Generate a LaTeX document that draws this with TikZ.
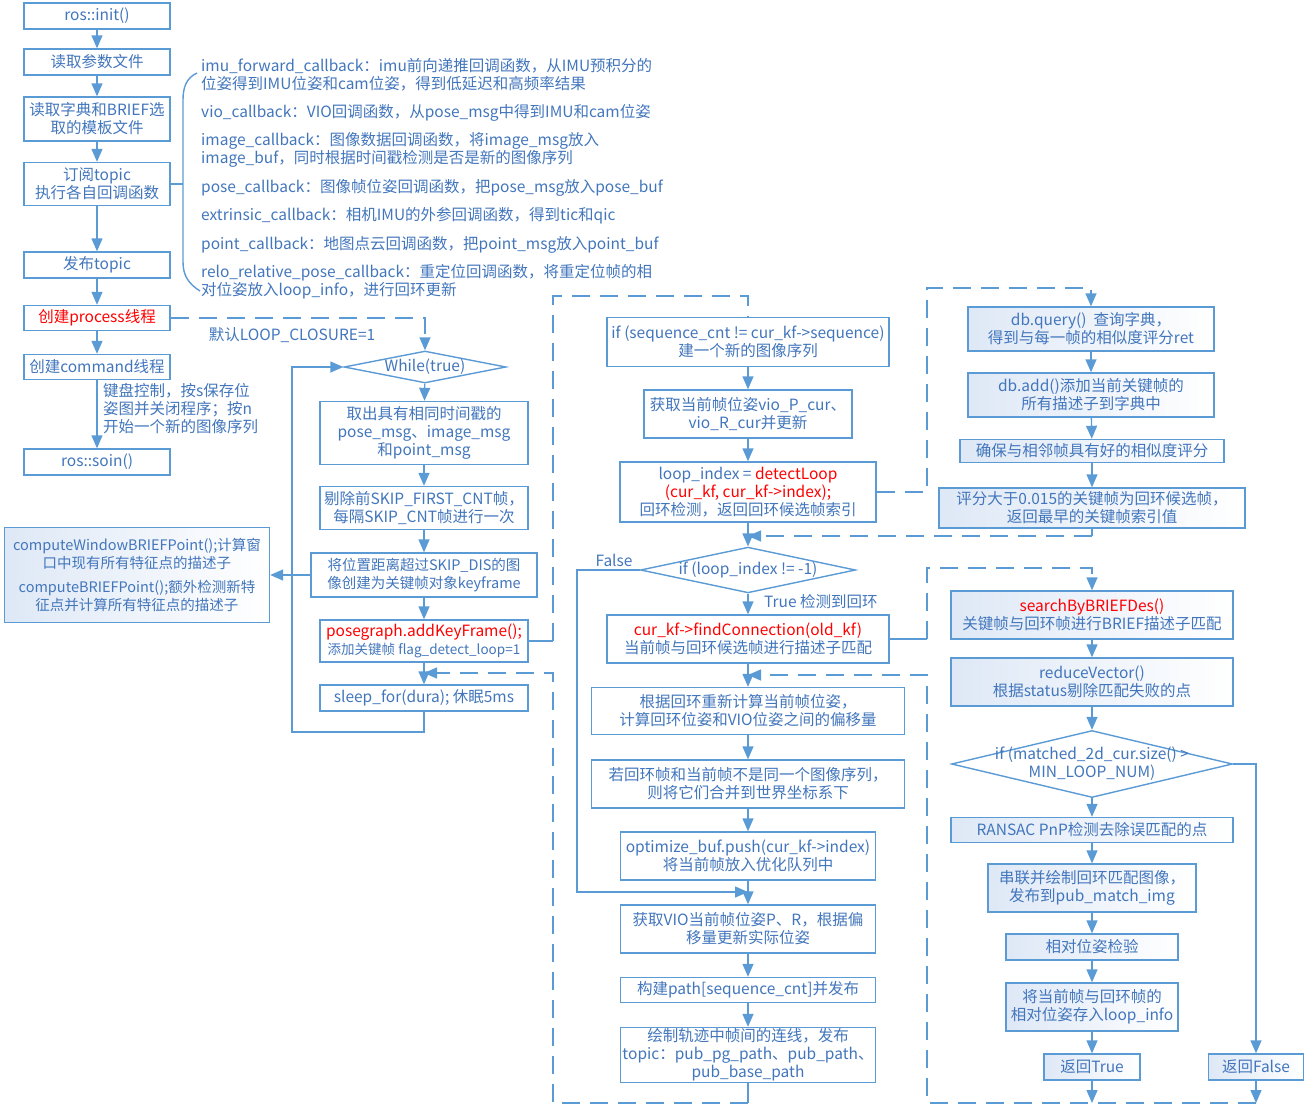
\documentclass[tikz,border=0pt]{standalone}
\usepackage{fontspec}
\setmainfont{Noto Sans CJK SC}
\usetikzlibrary{arrows.meta,shapes.geometric}

\definecolor{lnblue}{RGB}{91,155,213}
\definecolor{txtblue}{RGB}{66,118,188}
\definecolor{shadeblue}{RGB}{222,232,246}
\newcommand{\fs}{\fontsize{15.5}{18}\selectfont}
\newcommand{\fsn}{\fontsize{14.5}{17.5}\selectfont}
\newcommand{\fsmall}{\fontsize{13.5}{15}\selectfont}

\begin{document}
\begin{tikzpicture}[x=1pt,y=-1pt,
  box/.style={draw=lnblue,line width=1.4pt,fill=white,align=center,minimum height=26},
  sbox/.style={box,left color=shadeblue,right color=white},
  cond/.style={draw=lnblue,line width=1.4pt,fill=white,shape=diamond,align=center},
  ln/.style={draw=lnblue,line width=1.4pt},
  arr/.style={ln,-{Triangle[width=11pt,length=13pt]}},
  dsh/.style={ln,dash pattern=on 18pt off 10pt},
  note/.style={align=left,anchor=west}]
\tikzstyle{every node}+=[inner sep=0pt,text=txtblue,font=\fs]
\useasboundingbox (0,0) rectangle (1307,1106);

% main thread
\node[box,minimum width=146] (init) at (97,16) {ros::init()};
\node[box,minimum width=146] (param) at (97,62) {读取参数文件};
\node[box,minimum width=146,minimum height=44] (dict) at (97,119) {读取字典和BRIEF选\\取的模板文件};
\node[box,minimum width=146,minimum height=43] (sub) at (97,184) {订阅topic\\执行各自回调函数};
\node[box,minimum width=146] (pub) at (97,265) {发布topic};
\node[box,minimum width=146,minimum height=25,text=red] (proc) at (97,318) {创建process线程};
\node[box,minimum width=146,minimum height=25] (cmd) at (97,367) {创建command线程};
\node[box,minimum width=146] (spin) at (97,462) {ros::soin()};
\draw[arr] (init) -- (param);
\draw[arr] (param) -- (dict);
\draw[arr] (dict) -- (sub);
\draw[arr] (sub) -- (pub);
\draw[arr] (pub) -- (proc);
\draw[arr] (proc) -- (cmd);
\draw[arr] (cmd) -- (spin);
\node[note,anchor=north west,text width=180] (keys) at (103,383) {键盘控制，按s保存位\\姿图并关闭程序；按n\\开始一个新的图像序列};

% callbacks
\coordinate (brc) at (183,184);
\draw[ln] (sub.east) -- (brc);
\draw[ln] (197,73) .. controls (186,78) and (183,88) .. (183,100) -- (183,262) .. controls (183,276) and (189,284) .. (200,291);
\node[note] (cb1) at (201,75) {imu\_forward\_callback：imu前向递推回调函数，从IMU预积分的\\位姿得到IMU位姿和cam位姿，得到低延迟和高频率结果};
\node[note] (cb2) at (201,113) {vio\_callback：VIO回调函数，从pose\_msg中得到IMU和cam位姿};
\node[note] (cb3) at (201,150) {image\_callback：图像数据回调函数，将image\_msg放入\\image\_buf，同时根据时间戳检测是否是新的图像序列};
\node[note] (cb4) at (201,188) {pose\_callback：图像帧位姿回调函数，把pose\_msg放入pose\_buf};
\node[note] (cb5) at (201,216) {extrinsic\_callback：相机IMU的外参回调函数，得到tic和qic};
\node[note] (cb6) at (201,245) {point\_callback：地图点云回调函数，把point\_msg放入point\_buf};
\node[note] (cb7) at (201,282) {relo\_relative\_pose\_callback：重定位回调函数，将重定位帧的相\\对位姿放入loop\_info，进行回环更新};

% process thread
\node[cond,aspect=5,minimum width=162,minimum height=32] (while) at (425,367) {While(true)};
\node[box,minimum width=208,minimum height=63] (msg) at (424,433) {取出具有相同时间戳的\\pose\_msg、image\_msg\\和point\_msg};
\node[box,minimum width=208,minimum height=43] (skip) at (424,508) {剔除前SKIP\_FIRST\_CNT帧，\\每隔SKIP\_CNT帧进行一次};
\node[box,minimum width=226,minimum height=44,font=\fsn] (kf) at (424,575) {将位置距离超过SKIP\_DIS的图\\像创建为关键帧对象keyframe};
\node[box,minimum width=208,minimum height=42] (addkf) at (424,641) {{\color{red}posegraph.addKeyFrame();}\\{\fsmall 添加关键帧 flag\_detect\_loop=1}};
\node[box,minimum width=208] (sleep) at (424,698) {sleep\_for(dura); 休眠5ms};
\node[sbox,minimum width=265,minimum height=95,font=\fsn] (brief) at (137,575) {computeWindowBRIEFPoint();计算窗\\口中现有所有特征点的描述子\\[7pt]computeBRIEFPoint();额外检测新特\\征点并计算所有特征点的描述子};
\draw[dsh,-{Triangle[width=11pt,length=13pt]}] (proc.east) -| (while.north);
\node (dflt) at (292,335) {默认LOOP\_CLOSURE=1};
\draw[arr] (while) -- (msg);
\draw[arr] (msg) -- (skip);
\draw[arr] (skip) -- (kf);
\draw[arr] (kf) -- (addkf);
\draw[arr] (addkf) -- (sleep);
\draw[arr] (kf.west) -- (brief.east);
\coordinate (loopc) at (292,732);
\draw[arr] (sleep.south) |- (loopc) |- (while.west);

% addKeyFrame
\node[box,minimum width=282,minimum height=49] (seq) at (748,342) {if (sequence\_cnt != cur\_kf->sequence)\\建一个新的图像序列};
\node[box,minimum width=208,minimum height=48] (vio) at (748,414) {获取当前帧位姿vio\_P\_cur、\\vio\_R\_cur并更新};
\node[box,minimum width=256,minimum height=60] (det) at (748,492) {loop\_index = {\color{red}detectLoop}\\{\color{red}(cur\_kf, cur\_kf->index);}\\回环检测，返回回环候选帧索引};
\node[cond,aspect=4.7,minimum width=207,minimum height=44] (ifloop) at (748,570) {if (loop\_index != -1)};
\node[box,minimum width=282,minimum height=48] (conn) at (748,639) {{\color{red}cur\_kf->findConnection(old\_kf)}\\当前帧与回环候选帧进行描述子匹配};
\node[box,minimum width=313,minimum height=47] (reloc) at (748,711) {根据回环重新计算当前帧位姿，\\计算回环位姿和VIO位姿之间的偏移量};
\node[box,minimum width=313,minimum height=48] (merge) at (748,784) {若回环帧和当前帧不是同一个图像序列，\\则将它们合并到世界坐标系下};
\node[box,minimum width=255,minimum height=48] (opt) at (748,856) {optimize\_buf.push(cur\_kf->index)\\将当前帧放入优化队列中};
\node[box,minimum width=255,minimum height=48] (upd) at (748,929) {获取VIO当前帧位姿P、R，根据偏\\移量更新实际位姿};
\node[box,minimum width=255,minimum height=25] (path) at (748,990) {构建path[sequence\_cnt]并发布};
\node[box,minimum width=255,minimum height=55] (traj) at (748,1055) {绘制轨迹中帧间的连线，发布\\topic：pub\_pg\_path、pub\_path、\\pub\_base\_path};
\draw[arr] (seq) -- (vio);
\draw[arr] (vio) -- (det);
\draw[arr] (det) -- (ifloop);
\draw[arr] (ifloop) -- (conn);
\draw[arr] (conn) -- (reloc);
\draw[arr] (reloc) -- (merge);
\draw[arr] (merge) -- (opt);
\draw[arr] (opt) -- (upd);
\draw[arr] (upd) -- (path);
\draw[arr] (path) -- (traj);
\node[anchor=west] (truelbl) at (764,602) {True 检测到回环};
\node (falselbl) at (614,560) {False};
\coordinate (fl) at (577,892);
\coordinate (back4) at (748,892);
\draw[arr] (ifloop.west) -| (fl) -- (back4);

% into / out of addKeyFrame
\coordinate (dl) at (553,296);
\coordinate (db) at (553,1103);
\coordinate (back1) at (424,673);
\draw[ln] (addkf.east) -- (addkf.east -| dl);
\draw[dsh] (addkf.east -| dl) -- (dl) -| (seq.north);
\draw[ln] (traj.south) -- (traj.south |- db);
\draw[dsh,-{Triangle[width=11pt,length=13pt]}] (traj.south |- db) -- (db) -- (db |- back1) -- (back1);

% detectLoop
\node[sbox,minimum width=246,minimum height=44] (query) at (1091,329) {db.query()~ 查询字典，\\得到与每一帧的相似度评分ret};
\node[sbox,minimum width=246,minimum height=44] (dbadd) at (1091,395) {db.add()添加当前关键帧的\\所有描述子到字典中};
\node[sbox,minimum width=264,minimum height=23] (sim) at (1092,451) {确保与相邻帧具有好的相似度评分};
\node[sbox,minimum width=306,minimum height=40] (cand) at (1092,508) {评分大于0.015的关键帧为回环候选帧，\\返回最早的关键帧索引值};
\draw[arr] (query) -- (dbadd);
\draw[arr] (dbadd) -- (sim);
\draw[arr] (sim) -- (cand);
\coordinate (dr1) at (927,288);
\coordinate (back2) at (748,536);
\draw[dsh,-{Triangle[width=11pt,length=13pt]}] (det.east) -- (det.east -| dr1) -- (dr1) -| (query.north);
\draw[ln] (cand.south) -- (cand.south |- back2);
\draw[dsh,-{Triangle[width=11pt,length=13pt]}] (cand.south |- back2) -- (back2);

% findConnection
\node[sbox,minimum width=282,minimum height=48] (search) at (1092,615) {{\color{red}searchByBRIEFDes()}\\关键帧与回环帧进行BRIEF描述子匹配};
\node[sbox,minimum width=282,minimum height=48] (reduce) at (1092,682) {reduceVector()\\根据status剔除匹配失败的点};
\node[cond,aspect=4.2,inner xsep=-14pt,inner ysep=-6pt,minimum width=281,minimum height=67] (ifnum) at (1092,764) {if (matched\_2d\_cur.size() >\\MIN\_LOOP\_NUM)};
\node[sbox,minimum width=282,minimum height=25] (ransac) at (1092,830) {RANSAC PnP检测去除误匹配的点};
\node[sbox,minimum width=208,minimum height=48] (concat) at (1092,888) {串联并绘制回环匹配图像，\\发布到pub\_match\_img};
\node[sbox,minimum width=172] (check) at (1092,947) {相对位姿检验};
\node[sbox,minimum width=172,minimum height=48] (store) at (1092,1007) {将当前帧与回环帧的\\相对位姿存入loop\_info};
\node[sbox,minimum width=96] (rettrue) at (1092,1067) {返回True};
\node[sbox,minimum width=95] (retfalse) at (1256,1067) {返回False};
\draw[arr] (search) -- (reduce);
\draw[arr] (reduce) -- (ifnum);
\draw[arr] (ifnum) -- (ransac);
\draw[arr] (ransac) -- (concat);
\draw[arr] (concat) -- (check);
\draw[arr] (check) -- (store);
\draw[arr] (store) -- (rettrue);
\draw[arr] (ifnum.east) -| (retfalse.north);
\coordinate (dr2) at (927,568);
\coordinate (db2) at (927,1103);
\coordinate (back3) at (748,675);
\draw[ln] (conn.east) -- (conn.east -| dr2);
\draw[dsh,-{Triangle[width=11pt,length=13pt]}] (conn.east -| dr2) -- (dr2) -| (search.north);
\draw[arr] (rettrue.south) -- (rettrue.south |- db2);
\draw[arr] (retfalse.south) -- (retfalse.south |- db2);
\draw[dsh,-{Triangle[width=11pt,length=13pt]}] (retfalse.south |- db2) -- (db2) -- (db2 |- back3) -- (back3);
\end{tikzpicture}
\end{document}
